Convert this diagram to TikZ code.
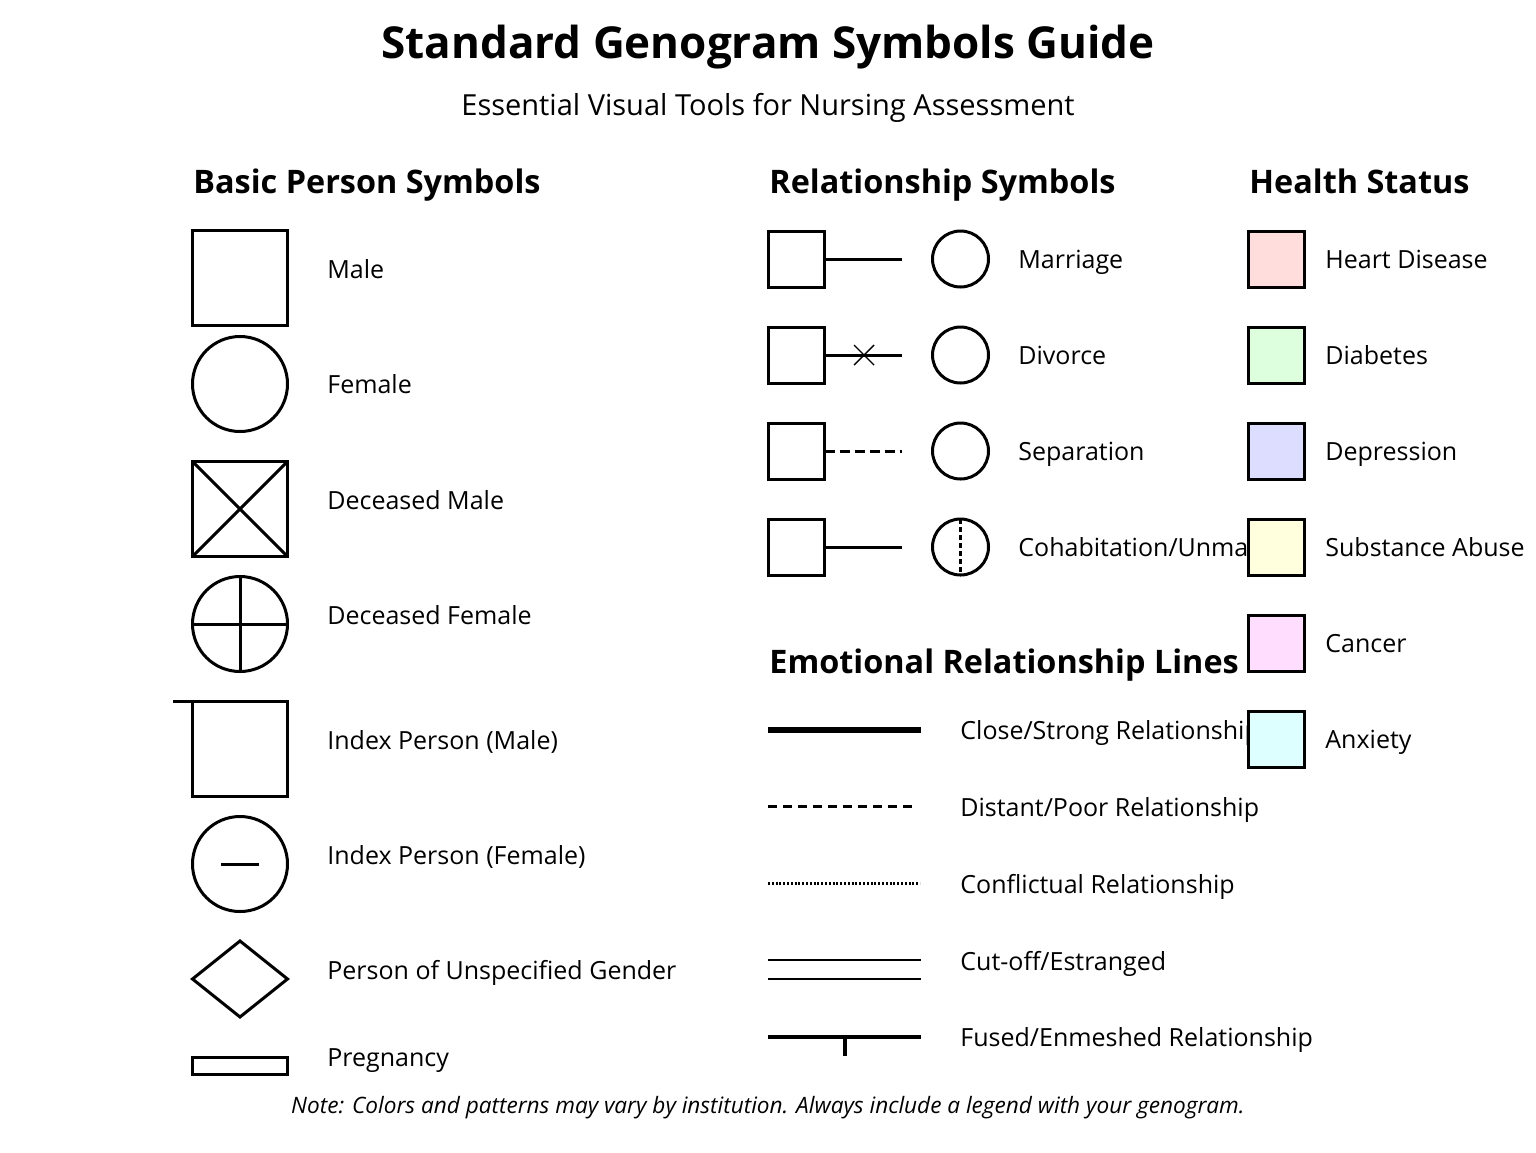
\documentclass[tikz,border=0pt]{standalone}
\usepackage{fontspec}
\setmainfont{Open Sans}
\usetikzlibrary{shapes.geometric}
\definecolor{heartc}{HTML}{FFDDDD}
\definecolor{diabc}{HTML}{DDFFDD}
\definecolor{deprc}{HTML}{DDDDFF}
\definecolor{subsc}{HTML}{FFFFDD}
\definecolor{cancc}{HTML}{FFDDFF}
\definecolor{anxc}{HTML}{DDFFFF}
\begin{document}
\begin{tikzpicture}[x=0.5pt,y=-0.5pt,
    sym/.style={draw,line width=1.5pt,inner sep=0pt,outer sep=0pt,minimum size=47.5pt},
    rsym/.style={draw,line width=1.5pt,inner sep=0pt,outer sep=0pt,minimum size=28pt},
    thick line/.style={line width=1.5pt},
    lbl/.style={anchor=base west,inner sep=0pt,font=\fontsize{12.5}{15}\selectfont},
    head/.style={anchor=base west,inner sep=0pt,font=\bfseries\fontsize{16.2}{19}\selectfont}]
  \useasboundingbox (0,0) rectangle (1536,1152);

  \node[anchor=base,inner sep=0pt] (title) at (768,58) {\bfseries\fontsize{22}{26}\selectfont Standard Genogram Symbols Guide};
  \node[anchor=base,inner sep=0pt] (subtitle) at (768,115) {\fontsize{14.5}{17}\selectfont Essential Visual Tools for Nursing Assessment};

  % basic person symbols
  \node[head] (basich) at (193,193) {Basic Person Symbols};
  \node[sym,rectangle] (male) at (240,278) {};
  \node[sym,circle] (female) at (240,384) {};
  \node[sym,rectangle] (dmale) at (240,509) {};
  \node[sym,circle] (dfemale) at (240,624) {};
  \node[sym,rectangle] (imale) at (240,749) {};
  \node[sym,circle] (ifemale) at (240,864) {};
  \node[sym,diamond,minimum width=47.5pt,minimum height=38pt] (unspec) at (240,979) {};
  \node[sym,rectangle,minimum width=47.5pt,minimum height=8.5pt] (preg) at (240,1066) {};
  \coordinate (itab) at (173,701.5);
  \begin{scope}[thick line]
    \draw (dmale.north west) -- (dmale.south east);
    \draw (dmale.north east) -- (dmale.south west);
    \draw (dfemale.north) -- (dfemale.south);
    \draw (dfemale.west) -- (dfemale.east);
    \draw (itab) -- (imale.north west);
    \draw ([xshift=-9.5pt]ifemale.center) -- ([xshift=9.5pt]ifemale.center);
  \end{scope}
  \node[lbl] (malel) at (327,278.5) {Male};
  \node[lbl] (femalel) at (327,393.5) {Female};
  \node[lbl] (dmalel) at (327,509.5) {Deceased Male};
  \node[lbl] (dfemalel) at (327,624.5) {Deceased Female};
  \node[lbl] (imalel) at (327,749.5) {Index Person (Male)};
  \node[lbl] (ifemalel) at (327,864.5) {Index Person (Female)};
  \node[lbl] (unspecl) at (327,979.5) {Person of Unspecified Gender};
  \node[lbl] (pregl) at (327,1066.5) {Pregnancy};

  % relationship symbols
  \node[head] (relh) at (769,193) {Relationship Symbols};
  \node[rsym,rectangle] (mar1) at (796.5,259) {};
  \node[rsym,circle] (mar2) at (960.5,259) {};
  \node[rsym,rectangle] (div1) at (796.5,355) {};
  \node[rsym,circle] (div2) at (960.5,355) {};
  \node[rsym,rectangle] (sep1) at (796.5,451) {};
  \node[rsym,circle] (sep2) at (960.5,451) {};
  \node[rsym,rectangle] (coh1) at (796.5,547) {};
  \node[rsym,circle] (coh2) at (960.5,547) {};
  \coordinate (mar3) at (902,259);
  \coordinate (div3) at (902,355);
  \coordinate (sep3) at (902,451);
  \coordinate (coh3) at (902,547);
  \coordinate (divx) at (864,355);
  \begin{scope}[thick line]
    \draw (mar1) -- (mar3);
    \draw (div1) -- (div3);
    \draw[dash pattern=on 5pt off 2.5pt] (sep1) -- (sep3);
    \draw (coh1) -- (coh3);
    \draw[dash pattern=on 2.5pt off 1.5pt] (coh2.north) -- (coh2.south);
  \end{scope}
  \draw[line width=0.7pt] ([shift={(-5pt,-5pt)}]divx) -- ([shift={(5pt,5pt)}]divx);
  \draw[line width=0.7pt] ([shift={(-5pt,5pt)}]divx) -- ([shift={(5pt,-5pt)}]divx);
  \node[lbl] (marl) at (1018,268.5) {Marriage};
  \node[lbl] (divl) at (1018,364.5) {Divorce};
  \node[lbl] (sepl) at (1018,460.5) {Separation};
  \node[lbl] (cohl) at (1018,556.5) {Cohabitation/Unmarried};

  % emotional relationship lines
  \node[head] (emoh) at (769,673) {Emotional Relationship Lines};
  \coordinate (cs1) at (768,730);
  \coordinate (cs2) at (921,730);
  \coordinate (dp1) at (768,806);
  \coordinate (dp2) at (916,806);
  \coordinate (cf1) at (768,883);
  \coordinate (cf2) at (920,883);
  \coordinate (co1) at (768,960);
  \coordinate (co2) at (921,960);
  \coordinate (co3) at (768,979);
  \coordinate (co4) at (921,979);
  \coordinate (fu1) at (768,1037);
  \coordinate (fu2) at (921,1037);
  \coordinate (fu3) at (845,1037);
  \coordinate (fu4) at (845,1056);
  \draw[line width=3pt] (cs1) -- (cs2);
  \draw[thick line,dash pattern=on 4.5pt off 3pt] (dp1) -- (dp2);
  \draw[thick line,dash pattern=on 1pt off 0.9pt] (cf1) -- (cf2);
  \draw[line width=0.75pt] (co1) -- (co2);
  \draw[line width=0.75pt] (co3) -- (co4);
  \draw[line width=1.75pt] (fu1) -- (fu2);
  \draw[line width=1.75pt] (fu3) -- (fu4);
  \node[lbl] (csl) at (960,739.5) {Close/Strong Relationship};
  \node[lbl] (dpl) at (960,816.5) {Distant/Poor Relationship};
  \node[lbl] (cfl) at (960,893.5) {Conflictual Relationship};
  \node[lbl] (col) at (960,970.5) {Cut-off/Estranged};
  \node[lbl] (ful) at (960,1046.5) {Fused/Enmeshed Relationship};

  % health status
  \node[head] (healthh) at (1249,193) {Health Status};
  \node[rsym,rectangle,fill=heartc] (heart) at (1276.5,259) {};
  \node[rsym,rectangle,fill=diabc] (diab) at (1276.5,355) {};
  \node[rsym,rectangle,fill=deprc] (depr) at (1276.5,451) {};
  \node[rsym,rectangle,fill=subsc] (subs) at (1276.5,547) {};
  \node[rsym,rectangle,fill=cancc] (canc) at (1276.5,643) {};
  \node[rsym,rectangle,fill=anxc] (anx) at (1276.5,739) {};
  \node[lbl] (heartl) at (1325,268.5) {Heart Disease};
  \node[lbl] (diabl) at (1325,364.5) {Diabetes};
  \node[lbl] (deprl) at (1325,460.5) {Depression};
  \node[lbl] (subsl) at (1325,556.5) {Substance Abuse};
  \node[lbl] (cancl) at (1325,652.5) {Cancer};
  \node[lbl] (anxl) at (1325,748.5) {Anxiety};

  \node[anchor=base,inner sep=0pt] (note) at (768,1113) {\itshape\fontsize{11.3}{13}\selectfont Note: Colors and patterns may vary by institution. Always include a legend with your genogram.};
\end{tikzpicture}
\end{document}
